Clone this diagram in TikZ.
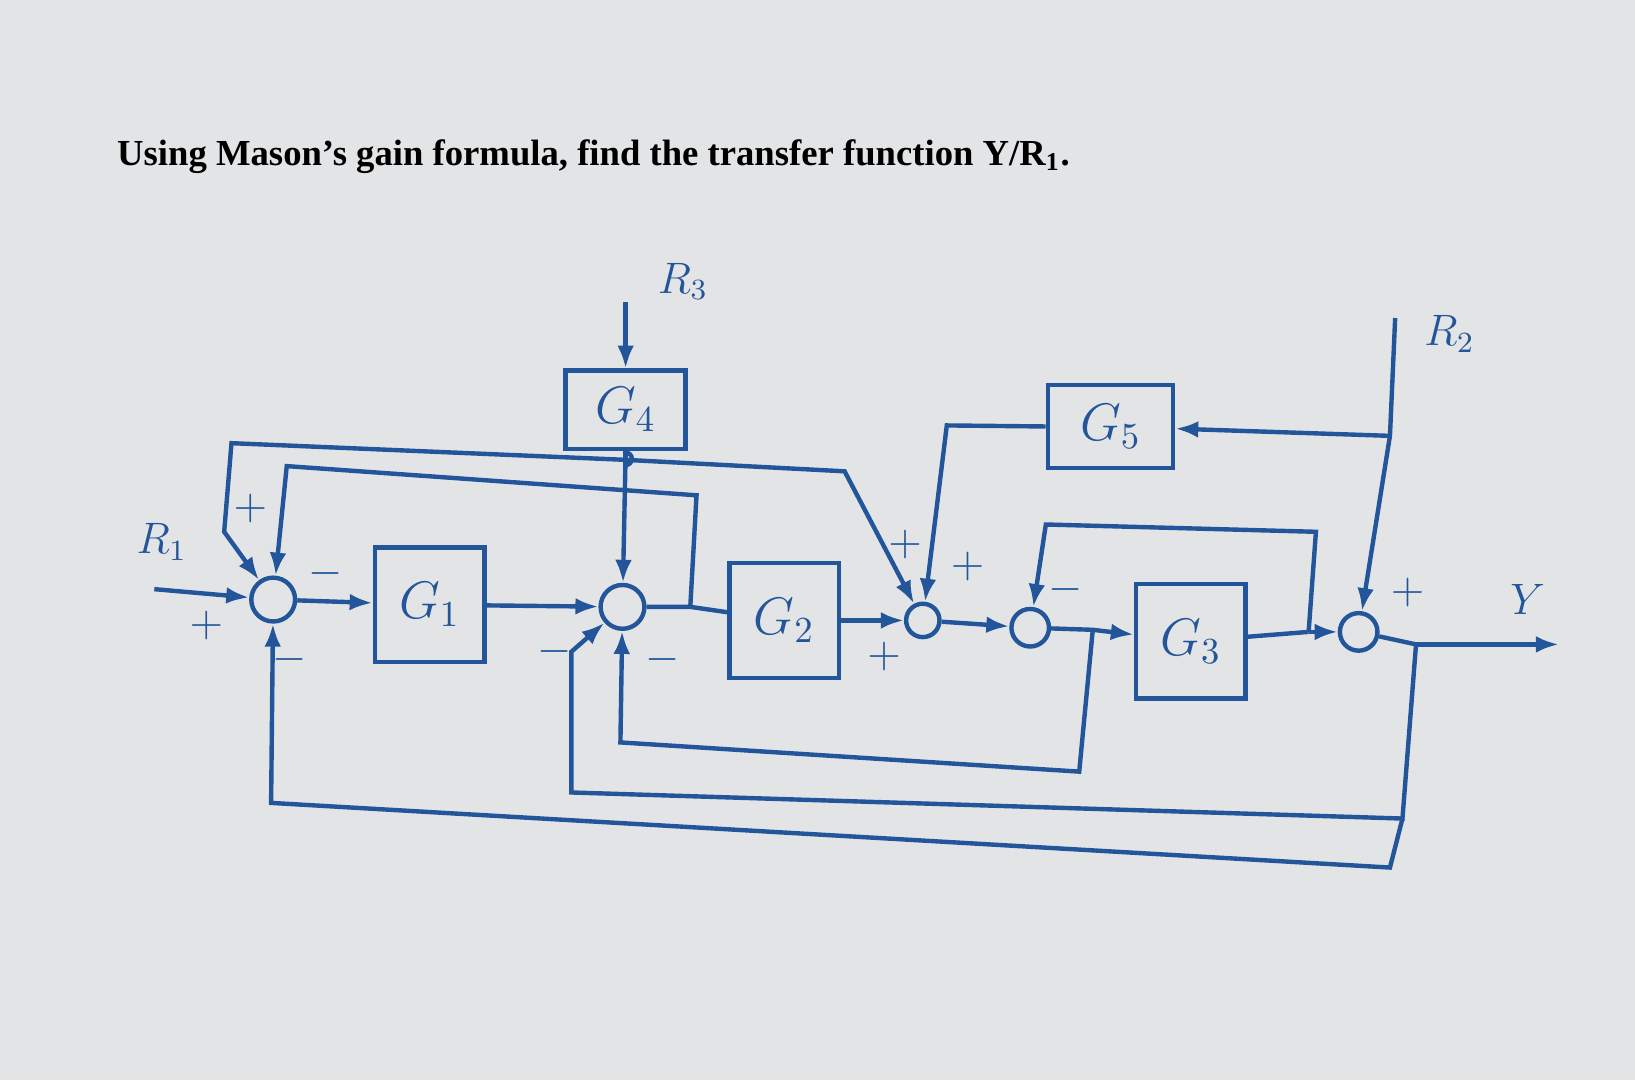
\documentclass[tikz,border=0pt]{standalone}
\usepackage{fontspec}
\setmainfont{Liberation Serif}
\usetikzlibrary{arrows.meta,positioning}
\definecolor{ink}{RGB}{35,85,155}
\definecolor{paper}{RGB}{226,228,229}
\tikzset{>={Latex[length=2.2mm,width=1.6mm]}}
\tikzset{blk/.style={draw=ink,line width=1.2pt,minimum width=1.05cm,minimum height=1.1cm,text=ink,font=\Large},
  sumn/.style={draw=ink,circle,line width=1.2pt,minimum size=0.42cm,inner sep=0pt},
  sig/.style={text=ink,font=\large},
  wire/.style={draw=ink,line width=1.2pt}}
\begin{document}
\begin{tikzpicture}[x=0.01cm,y=-0.01cm]
    \fill[paper] (0,0) rectangle (1568,1036);
    \useasboundingbox (0,0) rectangle (1568,1036);
    %title
    \node[anchor=west,font=\normalsize] (title) at (100,150) {\textbf{Using Mason's gain formula, find the transfer function Y/R\textsubscript{1}.}};
    %blocks
    \node[blk] (g1) at (412,580) {$G_1$};
    \node[blk] (g2) at (752,595) {$G_2$};
    \node[blk] (g3) at (1142,615) {$G_3$};
    \node[blk,minimum height=0.75cm,minimum width=1.15cm] (g4) at (600,393) {$G_4$};
    \node[blk,minimum height=0.8cm,minimum width=1.2cm] (g5) at (1065,409) {$G_5$};
    %summers
    \node[sumn] (s1) at (262,575) {};
    \node[sumn] (s2) at (597,582) {};
    \node[sumn,minimum size=0.32cm] (s3) at (885,595) {};
    \node[sumn,minimum size=0.36cm] (s4) at (988,602) {};
    \node[sumn,minimum size=0.36cm] (s5) at (1303,606) {};
    %inputs and output
    \coordinate (r1) at (148,565);
    \coordinate (r3) at (600,290);
    \coordinate (r2) at (1338,305);
    \coordinate (y) at (1495,618);
    \node[sig] (r1l) at (155,520) {$R_1$};
    \node[sig] (r3l) at (655,270) {$R_3$};
    \node[sig] (r2l) at (1390,320) {$R_2$};
    \node[sig] (yl) at (1465,575) {$Y$};
    %junctions
    \coordinate (j2) at (662,582);
    \coordinate (j4) at (1048,604);
    \coordinate (j3) at (1255,606);
    \coordinate (jy) at (1358,618);
    \coordinate (j5) at (1333,418);
    \coordinate (jg4) at (600,441);
    %forward path
    \draw[wire,->] (r1) -- (s1);
    \draw[wire,->] (s1) -- (g1);
    \draw[wire,->] (g1) -- (s2);
    \draw[wire] (s2) -- (j2) -- (g2);
    \draw[wire,->] (g2) -- (s3);
    \draw[wire,->] (s3) -- (s4);
    \draw[wire] (s4) -- (j4);
    \draw[wire,->] (j4) -- (g3);
    \draw[wire] (g3) -- (j3);
    \draw[wire,->] (j3) -- (s5);
    \draw[wire] (s5) -- (jy);
    \draw[wire,->] (jy) -- (y);
    %disturbances
    \draw[wire,->] (r3) -- (g4);
    \draw[wire,->] (r2) -- (j5) -- (s5);
    \draw[wire,->] (j5) -- (g5);
    \draw[wire,->] (g5.west) -- (908,408) -- (s3);
    %G4 output
    \draw[wire] (g4) -- (jg4);
    \draw[wire,->] (jg4) -- (222,425) -- (215,510) -- (s1);
    \draw[wire,->] (jg4) -- (810,452) -- (s3);
    \draw[wire,->] (jg4) -- (600,446) arc[start angle=90,end angle=-90,radius=6] -- (s2);
    %feedback loops
    \draw[wire,->] (j2) -- (668,475) -- (275,447) -- (s1);
    \draw[wire,->] (j3) -- (1262,510) -- (1003,503) -- (s4);
    \draw[wire,->] (j4) -- (1035,740) -- (595,712) -- (s2);
    \draw[wire,->] (jy) -- (1345,785) -- (548,760) -- (548,625) -- (s2);
    \draw[wire,->] (1345,785) -- (1333,832) -- (260,770) -- (s1);
    %signs
    \node[sig] (p1) at (240,488) {$+$};
    \node[sig] (m1) at (312,550) {$-$};
    \node[sig] (p2) at (198,600) {$+$};
    \node[sig] (m2) at (278,632) {$-$};
    \node[sig] (m3) at (532,625) {$-$};
    \node[sig] (m4) at (635,632) {$-$};
    \node[sig] (p3) at (868,522) {$+$};
    \node[sig] (p4) at (928,543) {$+$};
    \node[sig] (p5) at (848,630) {$+$};
    \node[sig] (m5) at (1022,565) {$-$};
    \node[sig] (p6) at (1350,568) {$+$};
\end{tikzpicture}
\end{document}
